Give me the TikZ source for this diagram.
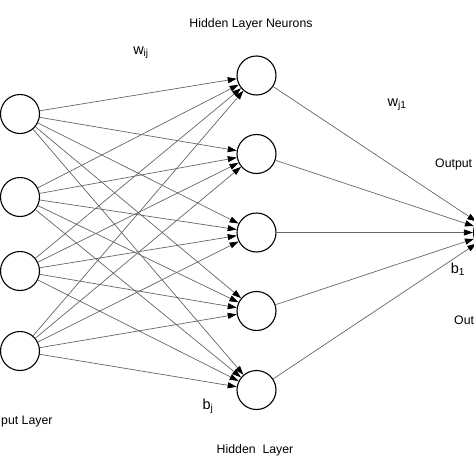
\documentclass[tikz,border=0pt]{standalone}
\usepackage{fontspec}
\setmainfont{Liberation Sans}
\usetikzlibrary{arrows.meta}

\begin{document}
\begin{tikzpicture}[x=1pt, y=-1pt,
    neuron/.style={circle, draw=black, line width=1.1pt, minimum size=39pt, inner sep=0pt},
    link/.style={draw=black!60, line width=0.7pt, -{Triangle[length=9pt, width=6pt, color=black]}},
    lbl/.style={font=\fontsize{12.3}{14}\selectfont},
    wlbl/.style={font=\fontsize{14.5}{16}\selectfont}]
\useasboundingbox (0,0) rectangle (474,474);
\clip (0,0) rectangle (474,474);
% input layer
\foreach \y [count=\i] in {114,197,271,351}
    \node[neuron] (in\i) at (20,\y) {};
% hidden layer
\foreach \y [count=\j] in {75.5,154,232.5,311,390}
    \node[neuron] (hid\j) at (256.5,\y) {};
% output neuron, mostly off the page
\node[neuron] (out) at (493,232.5) {};
% weights w_ij
\foreach \i in {1,...,4}
    \foreach \j in {1,...,5}
        \draw[link] (in\i) -- (hid\j);
% weights w_j1
\foreach \j in {1,...,5}
    \draw[link] (hid\j) -- (out);
% labels
\node[lbl] (title) at (251,24) {Hidden Layer Neurons};
\node[wlbl] (wij) at (141,53) {w\textsubscript{ij}};
\node[wlbl] (wj1) at (397,105) {w\textsubscript{j1}};
\node[lbl, anchor=west, inner sep=0pt] (outtxt) at (435,164) {Output};
\node[wlbl] (b1) at (458,269) {b\textsubscript{1}};
\node[lbl, anchor=west, inner sep=0pt] (outlayer) at (454,320) {Out};
\node[wlbl] (bj) at (208,406) {b\textsubscript{j}};
\node[lbl, anchor=west, inner sep=0pt] (inlayer) at (1,422) {put Layer};
\node[lbl] (hidlayer) at (255,450) {Hidden\ \ Layer};
\end{tikzpicture}
\end{document}
